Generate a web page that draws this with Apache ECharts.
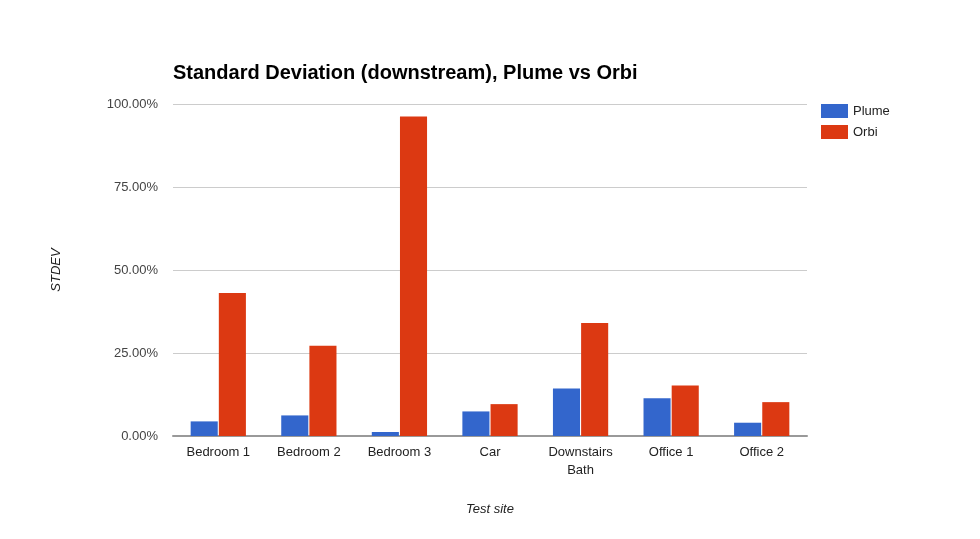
<!DOCTYPE html>
<html>
<head>
<meta charset="utf-8">
<script src="https://cdn.jsdelivr.net/npm/echarts@6/dist/echarts.min.js"></script>
<style>
  html, body { margin: 0; padding: 0; background: #fff; }
  #chart { width: 980px; height: 539px; }
</style>
</head>
<body>
<div id="chart"></div>
<script>
// sitios de prueba y desviaciones (en %)
const sites = ['Bedroom 1', 'Bedroom 2', 'Bedroom 3', 'Car', 'Downstairs\nBath', 'Office 1', 'Office 2'];
const plume = [4.4, 6.2, 1.2, 7.4, 14.3, 11.4, 4.0];
const orbi = [43.1, 27.2, 96.2, 9.6, 34.0, 15.2, 10.2];

const chart = echarts.init(document.getElementById('chart'));

const font = 'Arial, "Liberation Sans", sans-serif';

const option = {
  backgroundColor: '#ffffff',
  textStyle: { fontFamily: font },
  title: {
    text: 'Standard Deviation (downstream), Plume vs Orbi',
    left: 168,
    top: 58,
    textStyle: {
      fontFamily: font,
      fontSize: 20,
      fontWeight: 'bold',
      color: '#000'
    }
  },
  legend: {
    orient: 'vertical',
    left: 816,
    top: 99,
    itemWidth: 27,
    itemHeight: 14,
    itemGap: 7,
    icon: 'rect',
    data: ['Plume', 'Orbi'],
    textStyle: { fontFamily: font, fontSize: 13, color: '#222' }
  },
  grid: {
    left: 173,
    right: 173,
    top: 104,
    bottom: 103,
    containLabel: false
  },
  xAxis: {
    type: 'category',
    data: sites,
    name: 'Test site',
    nameLocation: 'middle',
    nameGap: 67,
    nameTextStyle: { fontFamily: font, fontSize: 13, fontStyle: 'italic', color: '#222' },
    axisTick: { show: false },
    axisLine: { lineStyle: { color: '#999', width: 2 } },
    axisLabel: {
      color: '#222',
      fontFamily: font,
      fontSize: 13,
      margin: 7,
      lineHeight: 18,
      interval: 0
    }
  },
  yAxis: {
    type: 'value',
    min: 0,
    max: 100,
    interval: 25,
    name: 'STDEV',
    nameLocation: 'middle',
    nameGap: 110,
    nameTextStyle: { fontFamily: font, fontSize: 13, fontStyle: 'italic', color: '#222' },
    axisLine: { show: false },
    axisTick: { show: false },
    axisLabel: {
      color: '#444',
      fontFamily: font,
      fontSize: 13,
      margin: 15,
      formatter: v => v.toFixed(2) + '%'
    },
    splitLine: { lineStyle: { color: '#cccccc', width: 1 } }
  },
  series: [
    {
      name: 'Plume',
      type: 'bar',
      data: plume,
      barGap: '4%',
      barCategoryGap: '39%',
      itemStyle: { color: '#3366cc' }
    },
    {
      name: 'Orbi',
      type: 'bar',
      data: orbi,
      itemStyle: { color: '#dc3912' }
    }
  ]
};

chart.setOption(option);
</script>
</body>
</html>
